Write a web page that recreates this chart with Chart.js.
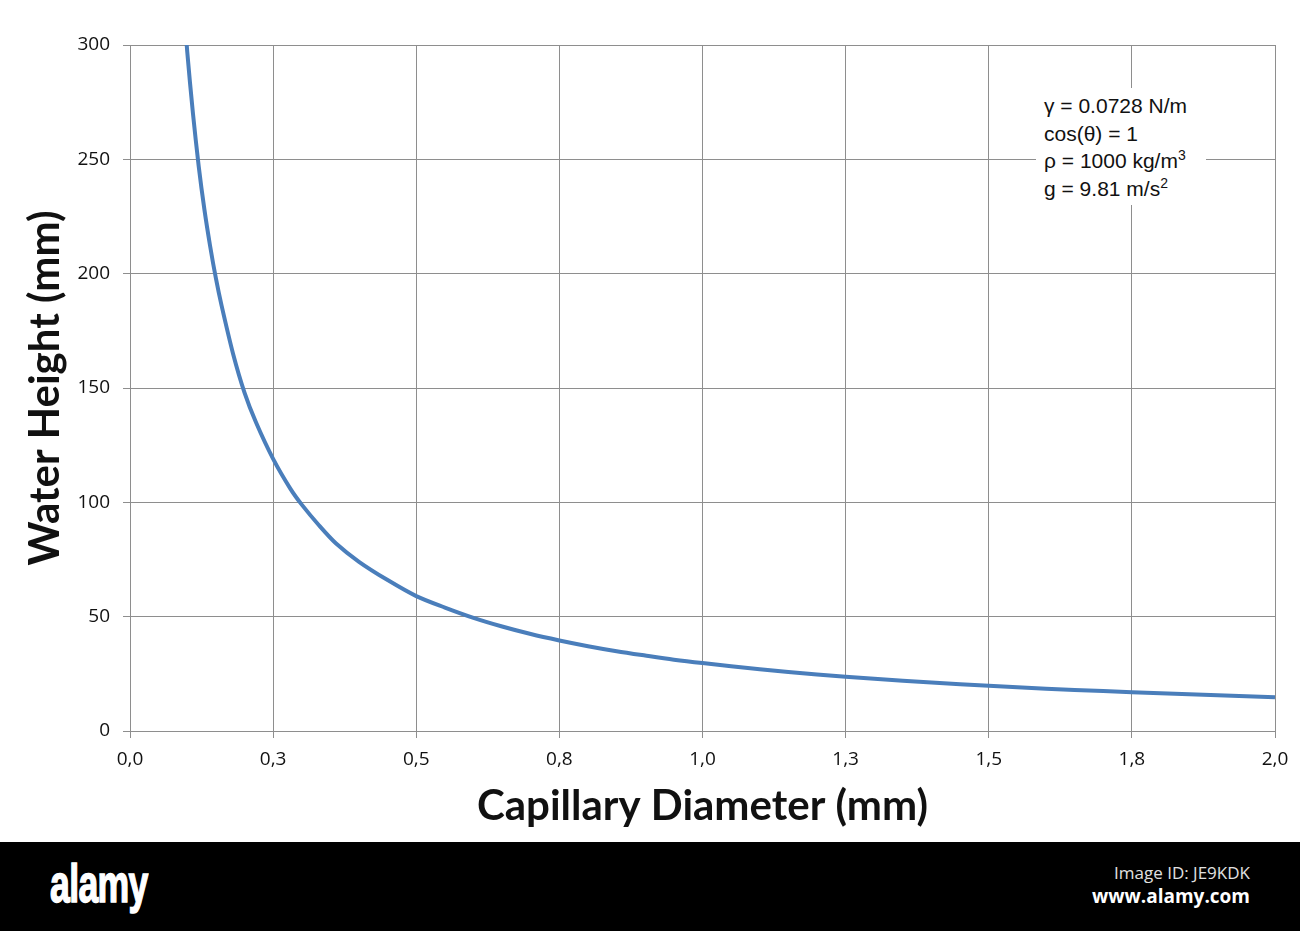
<!DOCTYPE html>
<html>
<head>
<meta charset="utf-8">
<script src="https://cdn.jsdelivr.net/npm/chart.js@4.4.0/dist/chart.umd.min.js"></script>
<style>
  html, body { margin: 0; padding: 0; background: #fff; }
  #wrap { position: relative; width: 1300px; height: 931px; overflow: hidden; background: #fff; }
  #chartBox { position: absolute; left: 0; top: 0; width: 1300px; height: 842px; }
  #note {
    position: absolute; left: 1036px; top: 88px; width: 170px; height: 117px;
    background: #fff; box-sizing: border-box; padding-left: 8px; padding-top: 4px;
    font-family: "Liberation Sans", Arial, sans-serif; font-size: 21px; line-height: 27.6px; color: #111;
    white-space: nowrap;
  }
  #note sup { font-size: 14px; line-height: 0; vertical-align: 8px; }
  #band { position: absolute; left: 0; top: 842px; width: 1300px; height: 89px; background: #000; }
  #logo {
    position: absolute; left: 50px; top: 14px; color: #fff;
    font-family: "Liberation Sans", Arial, sans-serif; font-weight: bold; font-size: 54px;
    letter-spacing: -1px; transform: scaleX(0.66); transform-origin: 0 0; line-height: 1;
    -webkit-text-stroke: 1.5px #fff;
  }
  #imgid {
    position: absolute; right: 50px; top: 21px; color: #e0e0e0;
    font-family: "Open Sans", sans-serif; font-size: 17px; line-height: 20px;
  }
  #www {
    position: absolute; right: 50px; top: 43px; color: #fff;
    font-family: "Open Sans", sans-serif; font-weight: bold; font-size: 19px; line-height: 22px;
  }
</style>
</head>
<body>
<div id="wrap">
  <div id="chartBox"><canvas id="c"></canvas></div>
  <div id="note">
    γ = 0.0728 N/m<br>
    cos(θ) = 1<br>
    ρ = 1000 kg/m<sup>3</sup><br>
    g = 9.81 m/s<sup>2</sup>
  </div>
  <div id="band">
    <div id="logo">alamy</div>
    <div id="imgid">Image ID: JE9KDK</div>
    <div id="www">www.alamy.com</div>
  </div>
</div>
<script>
// Capillary diameter (mm) and water height (mm)
const diameters = [0.09, 0.10, 0.11, 0.12, 0.13, 0.14, 0.15, 0.16, 0.18, 0.20,
                   0.22, 0.25, 0.28, 0.30, 0.33, 0.36, 0.40, 0.45, 0.50, 0.55,
                   0.60, 0.65, 0.70, 0.75, 0.80, 0.85, 0.90, 0.95, 1.00, 1.10,
                   1.20, 1.30, 1.40, 1.50, 1.60, 1.70, 1.80, 1.90, 2.00];
const heights   = [330, 297, 270, 247, 228, 212, 198, 186, 165, 148,
                   135, 119, 106, 99, 90, 82, 74, 66, 59, 54,
                   49.5, 45.7, 42.4, 39.6, 37.1, 34.9, 33.0, 31.2, 29.7, 27.0,
                   24.7, 22.8, 21.2, 19.8, 18.5, 17.5, 16.5, 15.6, 14.8];
const xTickLabels = ["0,0", "0,3", "0,5", "0,8", "1,0", "1,3", "1,5", "1,8", "2,0"];
const yTickLabels = ["0", "50", "100", "150", "200", "250", "300"];

const gridColor = '#8e8e8e';
const points = diameters.map((d, i) => ({ x: d, y: heights[i] }));

new Chart(document.getElementById('c'), {
  type: 'line',
  data: {
    datasets: [{
      data: points,
      borderColor: '#4a7ebb',
      borderWidth: 4,
      pointRadius: 0,
      tension: 0.3,
      fill: false
    }]
  },
  options: {
    responsive: true,
    maintainAspectRatio: false,
    animation: false,
    layout: { padding: { top: 45, right: 25, left: 0, bottom: 0 } },
    plugins: { legend: { display: false }, tooltip: { enabled: false } },
    scales: {
      x: {
        type: 'linear',
        min: 0, max: 2,
        afterFit: s => { s.height = 111; },
        afterBuildTicks: s => {
          s.ticks = xTickLabels.map((_, i) => ({ value: i * 0.25 }));
        },
        ticks: {
          autoSkip: false,
          maxRotation: 0,
          padding: 10,
          color: '#111',
          font: { family: 'Open Sans', size: 19 },
          callback: (v, i) => xTickLabels[i]
        },
        grid: { color: gridColor, lineWidth: 1, tickLength: 7, drawTicks: true },
        border: { color: gridColor, width: 1 },
        title: {
          display: true,
          text: 'Capillary Diameter (mm)',
          color: '#111',
          font: { family: 'Lato', size: 42, weight: 'bold' },
          padding: { top: 0, bottom: 10 }
        }
      },
      y: {
        type: 'linear',
        min: 0, max: 300,
        afterFit: s => { s.width = 130; },
        afterBuildTicks: s => {
          s.ticks = yTickLabels.map(t => ({ value: Number(t) }));
        },
        ticks: {
          padding: 13,
          color: '#111',
          font: { family: 'Open Sans', size: 19 },
          callback: (v, i) => yTickLabels[i]
        },
        grid: { color: gridColor, lineWidth: 1, tickLength: 7, drawTicks: true },
        border: { color: gridColor, width: 1 },
        title: {
          display: true,
          text: 'Water Height (mm)',
          color: '#111',
          font: { family: 'Lato', size: 42, weight: 'bold' },
          padding: { top: 20, bottom: 0 }
        }
      }
    }
  }
});
</script>
</body>
</html>
